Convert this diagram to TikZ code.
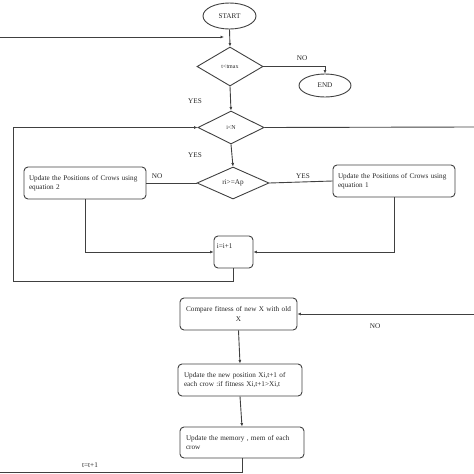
\documentclass[tikz,border=0pt]{standalone}
\usepackage{fontspec}
\setmainfont{Liberation Serif}
\usetikzlibrary{shapes.geometric,arrows.meta}
\begin{document}
\begin{tikzpicture}[x=1pt,y=-1pt,
  every node/.style={font=\fontsize{7.2}{9.5}\selectfont, text=black!85},
  line/.style={draw=black!75, line width=0.9pt},
  arr/.style={line, -{Latex[length=3.5pt,width=3pt]}},
  oval/.style={ellipse, line, inner sep=0pt},
  dia/.style={diamond, line, inner sep=0pt, aspect=2},
  box/.style={rectangle, rounded corners=4pt, line, inner sep=0pt},
  lbl/.style={inner sep=0pt}
]
\useasboundingbox (0,0) rectangle (474,474);
\node[oval, minimum width=53pt, minimum height=26pt] (start) at (229.5,16) {START};
\node[dia, minimum width=66pt, minimum height=39pt, font=\fontsize{6}{7}\selectfont] (d1) at (230,66.5) {t<tmax};
\node[oval, minimum width=52pt, minimum height=23pt] (end) at (325,85.5) {END};
\node[dia, minimum width=66pt, minimum height=33pt, font=\fontsize{6}{7}\selectfont] (d2) at (231,127.5) {i<N};
\node[dia, minimum width=72pt, minimum height=32pt] (d3) at (233,183) {ri>=Ap};
\node[box, minimum width=122pt, minimum height=32pt, text width=112pt, align=left] (b2) at (85,183) {Update the Positions of Crows using\\equation 2};
\node[box, minimum width=122pt, minimum height=32pt, text width=112pt, align=left] (b1) at (394,181) {Update the Positions of Crows using\\equation 1};
\node[box, minimum width=39pt, minimum height=32pt,
  label={[lbl, anchor=north west]north west:{\hspace*{3pt}\raisebox{-13pt}{i=i+1}}}] (inc) at (233.5,252) {};
\node[box, minimum width=117pt, minimum height=32pt, text width=112pt, align=center] (cmp) at (238.5,314) {Compare fitness of new X with old\\X};
\node[box, minimum width=124pt, minimum height=32pt, text width=112pt, align=left] (upd) at (240,380) {Update the new position Xi,t+1 of\\each crow :if fitness Xi,t+1>Xi,t};
\node[box, minimum width=124pt, minimum height=31pt, text width=112pt, align=left] (mem) at (242,442.5) {Update the memory , mem of each\\crow};

\coordinate (inL) at (0,37);
\coordinate (inLend) at (224,37);
\coordinate (outR) at (474,127);
\coordinate (inR) at (474,314);
\coordinate (outL) at (0,472);

\draw[arr] (inL) -- (inLend);
\draw[arr] (start.south) -- (d1.north);
\draw[arr] (d1.east) -| (end.north);
\node[lbl] at (302,58) {NO};
\draw[arr] (d1.south) -- (d2.north);
\node[lbl] at (195,101) {YES};
\draw[line] (d2.east) -- (outR);
\draw[arr] (d2.south) -- (d3.north);
\node[lbl] at (195,155) {YES};
\draw[line] (d3.west) -- (b2.east);
\node[lbl] at (157,176) {NO};
\draw[line] (d3.east) -- (b1.west);
\node[lbl] at (303,176) {YES};
\draw[arr] (b2.south) |- (inc.west);
\draw[arr] (b1.south) |- (inc.east);
\draw[arr] (inc.south) -- (233.5,281) -- (13,281) -- (13,127.5) -- (d2.west);
\draw[arr] (inR) -- (cmp.east);
\node[lbl] at (375,326) {NO};
\draw[arr] (cmp.south) -- (upd.north);
\draw[arr] (upd.south) -- (mem.north);
\draw[line] (mem.south) -- (242,472) -- (outL);
\node[lbl] at (90,465) {t=t+1};
\end{tikzpicture}
\end{document}
